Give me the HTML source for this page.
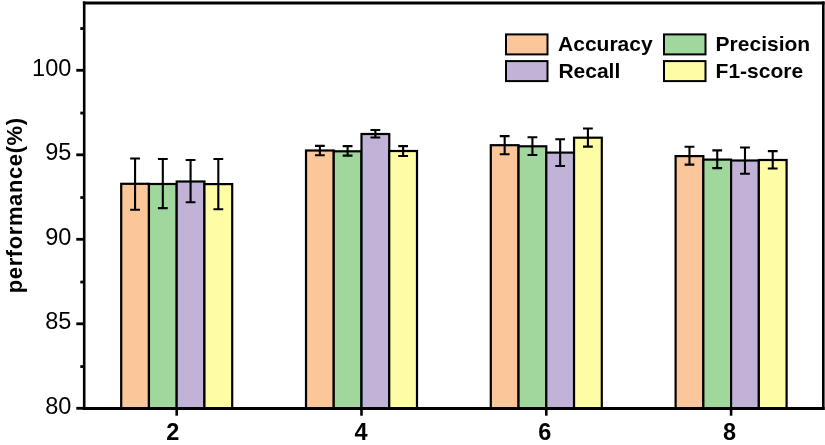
<!DOCTYPE html>
<html><head><meta charset="utf-8"><style>
html,body{margin:0;padding:0;background:#fff;}
svg{display:block;}
text{font-family:"Liberation Sans",Arial,sans-serif;fill:#000;}
.yt{font-size:23.5px;}
.xt{font-size:23.5px;font-weight:bold;}
.yl{font-size:22px;font-weight:bold;letter-spacing:0.6px;}
.lg{font-size:21px;font-weight:bold;}
</style></head><body>
<svg width="825" height="445" viewBox="0 0 825 445">
<rect width="825" height="445" fill="#fff"/>
<rect x="121.20" y="183.80" width="27.75" height="224.50" fill="#FAC69A" stroke="#000" stroke-width="2.2"/>
<rect x="148.95" y="184.00" width="27.75" height="224.30" fill="#A0D79C" stroke="#000" stroke-width="2.2"/>
<rect x="176.70" y="181.50" width="27.75" height="226.80" fill="#C1B3D8" stroke="#000" stroke-width="2.2"/>
<rect x="204.45" y="184.10" width="27.75" height="224.20" fill="#FEFDA5" stroke="#000" stroke-width="2.2"/>
<rect x="306.00" y="150.50" width="27.75" height="257.80" fill="#FAC69A" stroke="#000" stroke-width="2.2"/>
<rect x="333.75" y="151.30" width="27.75" height="257.00" fill="#A0D79C" stroke="#000" stroke-width="2.2"/>
<rect x="361.50" y="134.00" width="27.75" height="274.30" fill="#C1B3D8" stroke="#000" stroke-width="2.2"/>
<rect x="389.25" y="151.00" width="27.75" height="257.30" fill="#FEFDA5" stroke="#000" stroke-width="2.2"/>
<rect x="490.80" y="145.20" width="27.75" height="263.10" fill="#FAC69A" stroke="#000" stroke-width="2.2"/>
<rect x="518.55" y="146.30" width="27.75" height="262.00" fill="#A0D79C" stroke="#000" stroke-width="2.2"/>
<rect x="546.30" y="152.60" width="27.75" height="255.70" fill="#C1B3D8" stroke="#000" stroke-width="2.2"/>
<rect x="574.05" y="137.70" width="27.75" height="270.60" fill="#FEFDA5" stroke="#000" stroke-width="2.2"/>
<rect x="675.60" y="156.10" width="27.75" height="252.20" fill="#FAC69A" stroke="#000" stroke-width="2.2"/>
<rect x="703.35" y="159.60" width="27.75" height="248.70" fill="#A0D79C" stroke="#000" stroke-width="2.2"/>
<rect x="731.10" y="160.50" width="27.75" height="247.80" fill="#C1B3D8" stroke="#000" stroke-width="2.2"/>
<rect x="758.85" y="160.00" width="27.75" height="248.30" fill="#FEFDA5" stroke="#000" stroke-width="2.2"/>
<path d="M135.07 158.50V209.70M130.17 158.50H139.97M130.17 209.70H139.97" stroke="#000" stroke-width="2.1" fill="none"/>
<path d="M162.82 159.00V208.10M157.92 159.00H167.72M157.92 208.10H167.72" stroke="#000" stroke-width="2.1" fill="none"/>
<path d="M190.57 160.00V202.30M185.67 160.00H195.47M185.67 202.30H195.47" stroke="#000" stroke-width="2.1" fill="none"/>
<path d="M218.32 159.00V209.30M213.42 159.00H223.22M213.42 209.30H223.22" stroke="#000" stroke-width="2.1" fill="none"/>
<path d="M319.88 145.85V155.30M314.98 145.85H324.77M314.98 155.30H324.77" stroke="#000" stroke-width="2.1" fill="none"/>
<path d="M347.62 146.15V155.65M342.73 146.15H352.52M342.73 155.65H352.52" stroke="#000" stroke-width="2.1" fill="none"/>
<path d="M375.38 130.05V137.45M370.48 130.05H380.27M370.48 137.45H380.27" stroke="#000" stroke-width="2.1" fill="none"/>
<path d="M403.12 146.15V155.95M398.23 146.15H408.02M398.23 155.95H408.02" stroke="#000" stroke-width="2.1" fill="none"/>
<path d="M504.67 136.15V154.25M499.77 136.15H509.57M499.77 154.25H509.57" stroke="#000" stroke-width="2.1" fill="none"/>
<path d="M532.42 137.25V155.05M527.52 137.25H537.32M527.52 155.05H537.32" stroke="#000" stroke-width="2.1" fill="none"/>
<path d="M560.17 139.25V166.05M555.27 139.25H565.07M555.27 166.05H565.07" stroke="#000" stroke-width="2.1" fill="none"/>
<path d="M587.92 128.55V146.65M583.02 128.55H592.82M583.02 146.65H592.82" stroke="#000" stroke-width="2.1" fill="none"/>
<path d="M689.48 146.80V164.60M684.58 146.80H694.38M684.58 164.60H694.38" stroke="#000" stroke-width="2.1" fill="none"/>
<path d="M717.23 150.35V168.15M712.33 150.35H722.12M712.33 168.15H722.12" stroke="#000" stroke-width="2.1" fill="none"/>
<path d="M744.98 147.50V173.70M740.08 147.50H749.88M740.08 173.70H749.88" stroke="#000" stroke-width="2.1" fill="none"/>
<path d="M772.73 151.15V168.55M767.83 151.15H777.62M767.83 168.55H777.62" stroke="#000" stroke-width="2.1" fill="none"/>
<path d="M84.2 1.6V409.9M823.3 1.6V409.9" stroke="#000" stroke-width="2.6" fill="none"/>
<path d="M82.9 3.05H824.5999999999999" stroke="#000" stroke-width="2.9" fill="none"/>
<path d="M82.9 408.45H824.5999999999999" stroke="#000" stroke-width="3.0" fill="none"/>
<line x1="76.3" x2="84.2" y1="408.30" y2="408.30" stroke="#000" stroke-width="2.8"/>
<text x="71.3" y="413.90" text-anchor="end" class="yt">80</text>
<line x1="76.3" x2="84.2" y1="323.80" y2="323.80" stroke="#000" stroke-width="2.8"/>
<text x="71.3" y="329.40" text-anchor="end" class="yt">85</text>
<line x1="76.3" x2="84.2" y1="239.30" y2="239.30" stroke="#000" stroke-width="2.8"/>
<text x="71.3" y="244.90" text-anchor="end" class="yt">90</text>
<line x1="76.3" x2="84.2" y1="154.80" y2="154.80" stroke="#000" stroke-width="2.8"/>
<text x="71.3" y="160.40" text-anchor="end" class="yt">95</text>
<line x1="76.3" x2="84.2" y1="70.30" y2="70.30" stroke="#000" stroke-width="2.8"/>
<text x="71.3" y="75.90" text-anchor="end" class="yt">100</text>
<line x1="80.3" x2="84.2" y1="366.55" y2="366.55" stroke="#000" stroke-width="2.8"/>
<line x1="80.3" x2="84.2" y1="282.05" y2="282.05" stroke="#000" stroke-width="2.8"/>
<line x1="80.3" x2="84.2" y1="197.55" y2="197.55" stroke="#000" stroke-width="2.8"/>
<line x1="80.3" x2="84.2" y1="113.05" y2="113.05" stroke="#000" stroke-width="2.8"/>
<line x1="80.3" x2="84.2" y1="28.55" y2="28.55" stroke="#000" stroke-width="2.8"/>
<line x1="176.70" x2="176.70" y1="408.3" y2="415.7" stroke="#000" stroke-width="2.6"/>
<text x="172.90" y="440.3" text-anchor="middle" class="xt">2</text>
<line x1="361.50" x2="361.50" y1="408.3" y2="415.7" stroke="#000" stroke-width="2.6"/>
<text x="361.00" y="440.3" text-anchor="middle" class="xt">4</text>
<line x1="546.30" x2="546.30" y1="408.3" y2="415.7" stroke="#000" stroke-width="2.6"/>
<text x="544.80" y="440.3" text-anchor="middle" class="xt">6</text>
<line x1="731.10" x2="731.10" y1="408.3" y2="415.7" stroke="#000" stroke-width="2.6"/>
<text x="729.60" y="440.3" text-anchor="middle" class="xt">8</text>
<text transform="translate(21.5,205.3) rotate(-90)" text-anchor="middle" class="yl">performance(%)</text>
<rect x="506" y="34.4" width="41.5" height="20" fill="#FAC69A" stroke="#000" stroke-width="2"/>
<text x="558.1" y="51.4" class="lg">Accuracy</text>
<rect x="664" y="34.4" width="41.5" height="20" fill="#A0D79C" stroke="#000" stroke-width="2"/>
<text x="715.6" y="51.4" class="lg">Precision</text>
<rect x="506" y="61.1" width="41.5" height="20" fill="#C1B3D8" stroke="#000" stroke-width="2"/>
<text x="558.4" y="78.3" class="lg">Recall</text>
<rect x="664" y="61.1" width="41.5" height="20" fill="#FEFDA5" stroke="#000" stroke-width="2"/>
<text x="715.6" y="78.3" class="lg">F1-score</text>
</svg>
</body></html>
